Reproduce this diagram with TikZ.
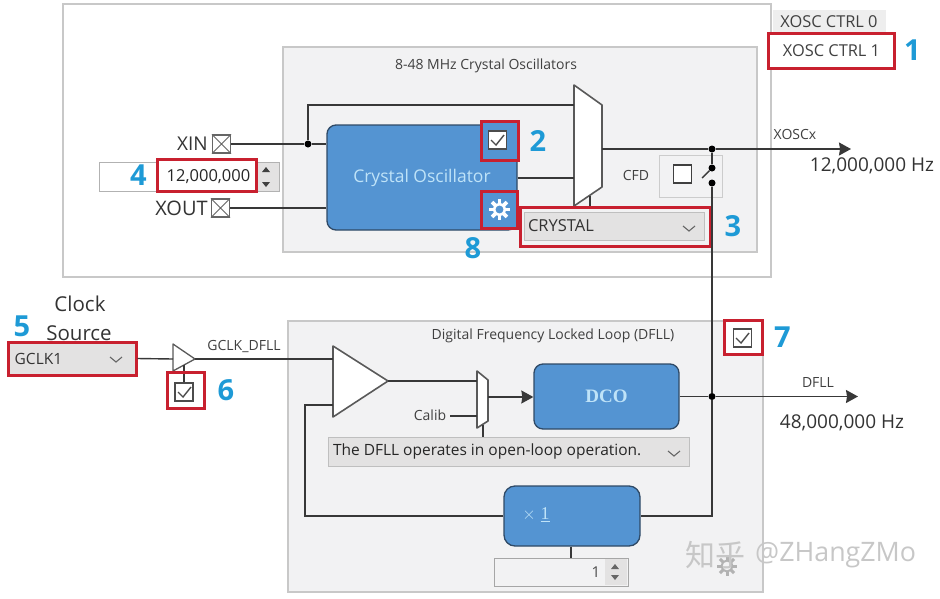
\documentclass[tikz,border=0pt]{standalone}
\usepackage{fontspec}
\setmainfont{Open Sans}
\newfontfamily\cjkfont{Noto Sans CJK SC}
\newfontfamily\dcofont{Liberation Serif}
\usepackage{tikz}
\usetikzlibrary{arrows.meta, positioning, calc}

\definecolor{blockblue}{HTML}{5494D2}
\definecolor{blockedge}{HTML}{2F4A66}
\definecolor{blocktext}{HTML}{BFE3F8}
\definecolor{panelgray}{HTML}{F2F2F3}
\definecolor{paneledge}{HTML}{C8C8C8}
\definecolor{wiregray}{HTML}{383838}
\definecolor{markred}{HTML}{C8202F}
\definecolor{numblue}{HTML}{1E9AD6}
\definecolor{dropgray}{HTML}{E3E2E2}

\begin{document}
\begin{tikzpicture}[
    x=1pt, y=-1pt,
    panel/.style={rectangle, draw=paneledge, line width=1.2pt, fill=panelgray, inner sep=0pt},
    block/.style={rectangle, draw=blockedge, line width=1.3pt, rounded corners=9pt, fill=blockblue, inner sep=0pt, text=blocktext, font=\fontsize{17.5}{20}\selectfont},
    redbox/.style={rectangle, draw=markred, line width=3pt, inner sep=0pt},
    num/.style={text=numblue, font=\fontsize{29}{32}\selectfont\bfseries, inner sep=0pt},
    caption/.style={text=black!75, font=\fontsize{14}{16}\selectfont, inner sep=0pt},
    big/.style={text=black!80, font=\fontsize{19}{22}\selectfont, inner sep=0pt},
    drop/.style={rectangle, draw=black!25, fill=dropgray, inner sep=0pt},
    spin/.style={rectangle, draw=black!30, fill=white, inner sep=0pt},
    check/.style={rectangle, draw=black!70, line width=1.2pt, fill=white, minimum size=18pt, inner sep=0pt},
    xpin/.style={check, draw=black!60, fill=none},
    wire/.style={draw=wiregray, line width=1.4pt},
    arrow/.style={wire, -{Stealth[length=12pt, width=13pt, inset=1pt]}},
    dot/.style={circle, fill=black, minimum size=7pt, inner sep=0pt},
    checkmark/.style={draw=black!70, line width=1.4pt},
    chevron/.style={draw=black!60, line width=1.1pt},
    gate/.style={draw=black!65, line width=1.6pt, fill=white, line join=round},
]
\useasboundingbox (0,0) rectangle (940,598);

% Panels
\node[panel, fill=white, minimum width=708pt, minimum height=273pt] (xoscpanel) at (417,140.5) {};
\node[panel, minimum width=474pt, minimum height=205pt] (crystalpanel) at (520,149.5) {};
\node[panel, minimum width=475pt, minimum height=271pt] (dfllpanel) at (525.5,456.5) {};
\node[caption] (crystaltitle) at (486,66) {8-48 MHz Crystal Oscillators};
\node[caption] (dflltitle) at (553,336) {Digital Frequency Locked Loop (DFLL)};

% Tabs
\node[rectangle, fill=dropgray!60, minimum width=113pt, minimum height=24pt, inner sep=0pt] (tabzero) at (829,22) {};
\node[caption, font=\fontsize{16.4}{18}\selectfont] at (tabzero) {XOSC CTRL 0};
\node[redbox, fill=white, minimum width=126pt, minimum height=35pt] (tabone) at (831.5,50.5) {};
\node[caption, font=\fontsize{16.4}{18}\selectfont] at (tabone) {XOSC CTRL 1};
\node[num, right=8pt of tabone] (numone) {1};

% Blocks
\node[block, minimum width=190pt, minimum height=105pt] (osc) at (422,177.5) {Crystal Oscillator};
\node[block, minimum width=145pt, minimum height=65pt, font=\fontsize{19}{22}\selectfont] (dco) at (606.5,396.5) {\dcofont\bfseries DCO};
\node[block, minimum width=136pt, minimum height=60pt, rounded corners=11pt] (mult) at (572,516) {};
\node[text=blocktext, font=\fontsize{18}{20}\selectfont, inner sep=0pt] (multtext) at (536,515) {$\times$ \underline{\dcofont 1}};

% Crystal pins and frequency
\node[xpin] (xinpin) at (221.5,144) {};
\node[xpin] (xoutpin) at (220.5,208) {};
\draw[black!60, line width=1pt] (xinpin.north west) -- (xinpin.south east) (xinpin.north east) -- (xinpin.south west);
\draw[black!60, line width=1pt] (xoutpin.north west) -- (xoutpin.south east) (xoutpin.north east) -- (xoutpin.south west);
\node[big, left=4pt of xinpin] (xin) {XIN};
\node[big, font=\fontsize{20}{22}\selectfont, left=3pt of xoutpin] (xout) {XOUT};
\node[spin, minimum width=180pt, minimum height=29pt] (freqspin) at (189,177) {};
\node[rectangle, fill=dropgray, minimum width=21pt, minimum height=28pt, inner sep=0pt] (freqbutton) at (268,177) {};
\node[redbox, fill=white, minimum width=99pt, minimum height=32pt] (freqmark) at (207,175.5) {};
\node[text=black!85, font=\fontsize{16.5}{18}\selectfont, inner sep=0pt] (freq) at (208.5,177) {12,000,000};
\node[num, left=9pt of freqmark] (numfour) {4};
\fill[black!75] (262,172) -- (266,167) -- (270,172) -- cycle (262,182) -- (266,187) -- (270,182) -- cycle;

% Multiplexers
\coordinate (muxtop) at (574,85);
\coordinate (muxbot) at (574,206);
\coordinate (muxout) at (602,149);
\draw[gate] (muxtop) -- (602,105) -- (602,187) -- (muxbot) -- cycle;
\coordinate (calibtop) at (477,371);
\coordinate (calibbot) at (477,428);
\coordinate (calibout) at (488,397);
\draw[gate] (calibtop) -- (488,380) -- (488,421) -- (calibbot) -- cycle;

% Amplifiers
\coordinate (buftip) at (195,359);
\draw[gate, line width=1.3pt] (173,344) -- (buftip) -- (173,371) -- cycle;
\coordinate (amptip) at (388,381);
\draw[gate] (333,346) -- (amptip) -- (333,417) -- cycle;

% Dropdowns
\node[redbox, minimum width=190pt, minimum height=39pt] (crystalmark) at (615,226.5) {};
\node[drop, minimum width=180pt, minimum height=28pt] (crystaldrop) at (614,226) {};
\node[text=black!80, font=\fontsize{16.5}{18}\selectfont, inner sep=0pt, right=4pt of crystaldrop.west] {CRYSTAL};
\draw[chevron] (683,226) -- (689,231) -- (695,226);
\node[redbox, fill=dropgray, minimum width=128pt, minimum height=33pt] (gclkdrop) at (72,358.5) {};
\node[text=black!80, font=\fontsize{15.5}{18}\selectfont, inner sep=0pt, right=8pt of gclkdrop.west] {GCLK1};
\draw[chevron] (110,357) -- (116,362) -- (122,357);
\node[drop, minimum width=361pt, minimum height=29pt] (modedrop) at (508.5,451.5) {};
\node[text=black!85, font=\fontsize{15.5}{18}\selectfont, inner sep=0pt, right=5pt of modedrop.west] {The DFLL operates in open-loop operation.};
\draw[chevron] (668,451) -- (674,456) -- (680,451);

% Multiplier spinner
\node[spin, fill=panelgray, draw=black!35, minimum width=134pt, minimum height=28pt] (multspin) at (561,572) {};
\node[rectangle, fill=dropgray, minimum width=22pt, minimum height=26pt, inner sep=0pt] (multbutton) at (616,572) {};
\node[text=black!70, font=\fontsize{15}{17}\selectfont, inner sep=0pt] at (596,572) {1};
\fill[black!60] (611,569) -- (615,564) -- (619,569) -- cycle (611,575) -- (615,580) -- (619,575) -- cycle;

% CFD
\node[rectangle, draw=black!20, fill=panelgray, minimum width=63pt, minimum height=42pt, inner sep=0pt] (cfdbox) at (690.5,176) {};
\node[check, fill=white, draw=black!75] (cfdcheck) at (682.5,174) {};
\node[caption] (cfd) at (636,175) {CFD};

% Dots
\node[dot] (xindot) at (308,144) {};
\node[dot] (tapdot) at (712,149) {};
\node[dot] (swupper) at (712,168) {};
\node[dot] (swlower) at (712,183) {};
\node[dot] (dcodot) at (712,396.5) {};

% Free ends
\coordinate (xoscend) at (851,149);
\coordinate (dfllend) at (858,396.5);
\coordinate (fbleft) at (305,516);
\coordinate (swfoot) at (702,178);

% Arrows
\draw[wire] (xinpin.east) -- (xindot) -- (osc.west |- xindot);
\draw[wire] (xindot) |- (muxtop |- 0,105);
\draw[wire] (xoutpin.east) -- (osc.west |- xoutpin);
\draw[wire] (osc.east |- 0,178) -- (muxtop |- 0,178);
\draw[arrow] (muxout) -- (tapdot) -- (xoscend);
\draw[wire] (tapdot) -- (swupper);
\draw[wire] (swfoot) -- (swupper);
\draw[wire] (swlower) -- (dcodot) |- (mult.east);
\draw[wire] (crystalmark.north -| 590,0) -- (590,196);
\draw[wire] (gclkdrop.east) -- (173,359);
\draw[wire] (buftip) -- (333,359);
\draw[wire] (amptip) -- (calibtop |- amptip);
\draw[arrow] (calibout) -- (dco.west |- calibout);
\draw[wire] (calibbot |- 0,416) -- (450,416);
\draw[wire] (483,425) -- (483,437);
\draw[arrow] (dco.east |- dcodot) -- (dcodot) -- (dfllend);
\draw[wire] (mult.west) -- (fbleft) |- (333,405);
\draw[wire] (mult.south -| 571,0) -- (multspin.north -| 571,0);
\draw[wire] (184,365) -- (184,383);

% Connector labels
\node[caption] (xoscx) at (795,134) {XOSCx};
\node[big] (xoscfreq) at (872,166) {12,000,000 Hz};
\node[caption] (gclkdfll) at (244,347) {GCLK\_DFLL};
\node[caption] (calib) at (430,415) {Calib};
\node[caption] (dflllabel) at (818,382) {DFLL};
\node[big] (dfllfreq) at (842,423) {48,000,000 Hz};
\node[big, font=\fontsize{20.5}{23}\selectfont] (clock) at (80,304) {Clock};
\node[big, font=\fontsize{20.5}{23}\selectfont] (source) at (79,333) {Source};

% Enable marks
\node[redbox, fill=blockblue, minimum width=37pt, minimum height=39pt] (enablemark) at (499.5,141) {};
\node[check] (enablecheck) at (497.5,140) {};
\draw[checkmark] (491,140) -- (496,145) -- (504,135);
\node[redbox, fill=blockblue, minimum width=36pt, minimum height=37pt] (gearmark) at (499.5,209.5) {};
\foreach \a in {0,45,...,315}
    \draw[white, line width=3.6pt] ($(gearmark)+(\a:4.5pt)$) -- ($(gearmark)+(\a:10.5pt)$);
\draw[white, line width=2.6pt] (gearmark) circle (5.5pt);
\node[redbox, minimum width=37pt, minimum height=36pt] (gclkmark) at (185.5,390) {};
\node[check, fill=none] (gclkcheck) at (184,392) {};
\draw[checkmark] (178,392) -- (183,397) -- (191,387);
\node[redbox, fill=white, minimum width=38pt, minimum height=34pt] (dfllmark) at (743.5,337) {};
\node[check, fill=none] (dfllcheck) at (742.5,338) {};
\draw[checkmark] (736,338) -- (741,343) -- (749,333);

% Numbers
\node[num, right=10pt of enablemark] (numtwo) {2};
\node[num, right=13pt of crystalmark] (numthree) {3};
\node[num] (numfive) at (22,326) {5};
\node[num, right=12pt of gclkmark] (numsix) {6};
\node[num, right=10pt of dfllmark] (numseven) {7};
\node[num] (numeight) at (473,248) {8};

% Faint gear and watermark
\foreach \a in {0,45,...,315}
    \draw[black!30, line width=3pt] ($(727,566)+(\a:5pt)$) -- ($(727,566)+(\a:10pt)$);
\draw[black!30, line width=2pt] (727,566) circle (5.5pt);
\node[text=black!22, font=\fontsize{30}{34}\selectfont\cjkfont, inner sep=0pt] (zhihu) at (715,555) {知乎};
\node[text=black!22, font=\fontsize{26.8}{30}\selectfont, inner sep=0pt, anchor=west] (handle) at (755,555) {@ZHangZMo};
\end{tikzpicture}
\end{document}
